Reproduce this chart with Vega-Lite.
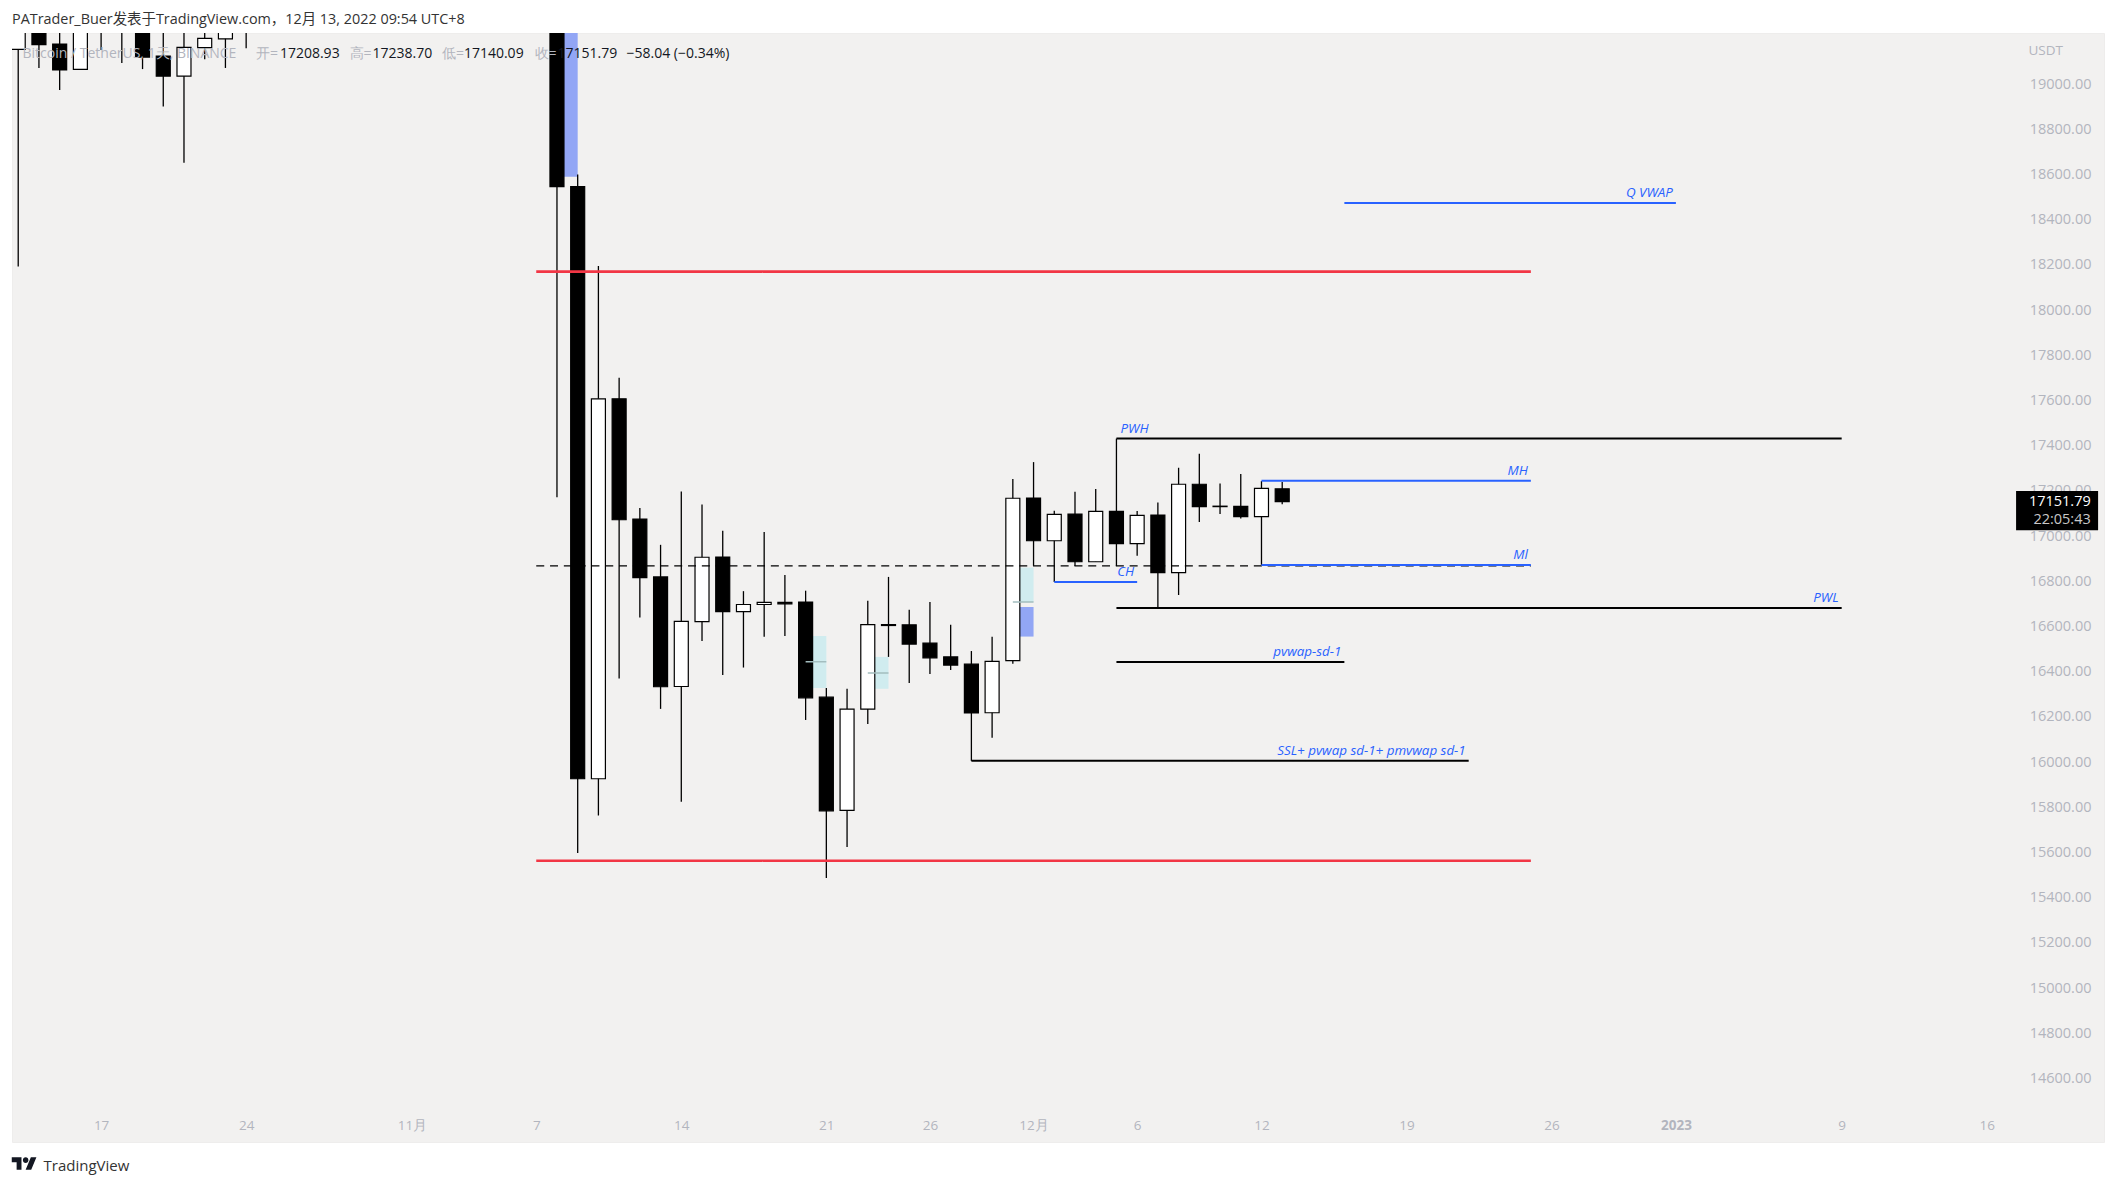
{
  "$schema": "https://vega.github.io/schema/vega-lite/v6.json",
  "autosize": "none",
  "width": 2092,
  "height": 1109,
  "padding": {"left": 12, "top": 33, "right": 12, "bottom": 44},
  "background": "#FFFFFF",
  "title": {
    "text": "PATrader_Buer发表于TradingView.com，12月 13, 2022 09:54 UTC+8",
    "anchor": "start",
    "frame": "group",
    "font": "Open Sans, Noto Sans CJK SC",
    "fontSize": 14.4,
    "fontWeight": "normal",
    "color": "#333333",
    "offset": 6
  },
  "config": {"font": "Open Sans", "view": {"fill": "#F2F1F0", "stroke": "#EEEDEC"}},
  "datasets": {
    "candles": [
      {"date": "2022-10-13", "open": 19153, "high": 19500, "low": 18192, "close": 19380},
      {"date": "2022-10-14", "open": 19381, "high": 19950, "low": 19071, "close": 19174},
      {"date": "2022-10-15", "open": 19177, "high": 19230, "low": 18973, "close": 19062},
      {"date": "2022-10-16", "open": 19065, "high": 19420, "low": 19063, "close": 19265},
      {"date": "2022-10-17", "open": 19265, "high": 19670, "low": 19150, "close": 19550},
      {"date": "2022-10-18", "open": 19550, "high": 19700, "low": 19093, "close": 19330},
      {"date": "2022-10-19", "open": 19330, "high": 19360, "low": 19066, "close": 19119},
      {"date": "2022-10-20", "open": 19124, "high": 19350, "low": 18900, "close": 19035},
      {"date": "2022-10-21", "open": 19035, "high": 19250, "low": 18652, "close": 19162},
      {"date": "2022-10-22", "open": 19161, "high": 19250, "low": 19110, "close": 19202},
      {"date": "2022-10-23", "open": 19200, "high": 19700, "low": 19071, "close": 19570},
      {"date": "2022-10-24", "open": 19570, "high": 19600, "low": 19158, "close": 19330},
      {"date": "2022-11-08", "open": 20590, "high": 20700, "low": 17172, "close": 18546},
      {"date": "2022-11-09", "open": 18546, "high": 18600, "low": 15597, "close": 15926},
      {"date": "2022-11-10", "open": 15926, "high": 18195, "low": 15763, "close": 17607},
      {"date": "2022-11-11", "open": 17607, "high": 17700, "low": 16369, "close": 17072},
      {"date": "2022-11-12", "open": 17075, "high": 17124, "low": 16639, "close": 16816},
      {"date": "2022-11-13", "open": 16819, "high": 16961, "low": 16235, "close": 16333},
      {"date": "2022-11-14", "open": 16334, "high": 17197, "low": 15824, "close": 16622},
      {"date": "2022-11-15", "open": 16621, "high": 17139, "low": 16535, "close": 16906},
      {"date": "2022-11-16", "open": 16907, "high": 17023, "low": 16385, "close": 16665},
      {"date": "2022-11-17", "open": 16665, "high": 16756, "low": 16418, "close": 16697},
      {"date": "2022-11-18", "open": 16697, "high": 17018, "low": 16554, "close": 16706},
      {"date": "2022-11-19", "open": 16706, "high": 16828, "low": 16558, "close": 16700},
      {"date": "2022-11-20", "open": 16708, "high": 16758, "low": 16186, "close": 16284},
      {"date": "2022-11-21", "open": 16287, "high": 16327, "low": 15487, "close": 15784},
      {"date": "2022-11-22", "open": 15786, "high": 16324, "low": 15624, "close": 16234},
      {"date": "2022-11-23", "open": 16234, "high": 16714, "low": 16168, "close": 16608},
      {"date": "2022-11-24", "open": 16608, "high": 16819, "low": 16465, "close": 16604},
      {"date": "2022-11-25", "open": 16607, "high": 16674, "low": 16350, "close": 16522},
      {"date": "2022-11-26", "open": 16526, "high": 16708, "low": 16389, "close": 16461},
      {"date": "2022-11-27", "open": 16465, "high": 16607, "low": 16407, "close": 16429},
      {"date": "2022-11-28", "open": 16433, "high": 16491, "low": 16005, "close": 16217},
      {"date": "2022-11-29", "open": 16218, "high": 16554, "low": 16107, "close": 16445},
      {"date": "2022-11-30", "open": 16449, "high": 17252, "low": 16435, "close": 17167},
      {"date": "2022-12-01", "open": 17168, "high": 17327, "low": 16868, "close": 16979},
      {"date": "2022-12-02", "open": 16979, "high": 17112, "low": 16796, "close": 17096},
      {"date": "2022-12-03", "open": 17097, "high": 17196, "low": 16867, "close": 16886},
      {"date": "2022-12-04", "open": 16886, "high": 17208, "low": 16886, "close": 17109},
      {"date": "2022-12-05", "open": 17109, "high": 17431, "low": 16867, "close": 16966},
      {"date": "2022-12-06", "open": 16966, "high": 17111, "low": 16913, "close": 17091},
      {"date": "2022-12-07", "open": 17093, "high": 17148, "low": 16681, "close": 16838},
      {"date": "2022-12-08", "open": 16838, "high": 17302, "low": 16739, "close": 17229},
      {"date": "2022-12-09", "open": 17229, "high": 17364, "low": 17062, "close": 17130},
      {"date": "2022-12-10", "open": 17132, "high": 17232, "low": 17097, "close": 17130},
      {"date": "2022-12-11", "open": 17131, "high": 17274, "low": 17077, "close": 17086},
      {"date": "2022-12-12", "open": 17086, "high": 17243, "low": 16872, "close": 17211},
      {"date": "2022-12-13", "open": 17208.93, "high": 17238.7, "low": 17140.09, "close": 17151.79}
    ],
    "zones": [
      {"date": "2022-11-08", "date2": "2022-11-09", "price": 18590, "price2": 19300, "kind": "blue"},
      {"date": "2022-11-20", "date2": "2022-11-21", "price": 16328, "price2": 16558, "kind": "teal"},
      {"date": "2022-11-23", "date2": "2022-11-24", "price": 16324, "price2": 16465, "kind": "teal"},
      {"date": "2022-11-30", "date2": "2022-12-01", "price": 16708, "price2": 16860, "kind": "teal"},
      {"date": "2022-11-30", "date2": "2022-12-01", "price": 16555, "price2": 16686, "kind": "blue"}
    ],
    "levels": [
      {"date": "2022-11-20", "date2": "2022-11-21", "price": 16444, "kind": "mid"},
      {"date": "2022-11-23", "date2": "2022-11-24", "price": 16394, "kind": "mid"},
      {"date": "2022-11-30", "date2": "2022-12-01", "price": 16708, "kind": "mid"},
      {"date": "2022-11-07", "date2": "2022-12-25", "price": 18170, "kind": "range"},
      {"date": "2022-11-07", "date2": "2022-12-25", "price": 15563, "kind": "range"},
      {"date": "2022-11-07", "date2": "2022-12-25", "price": 16868, "kind": "dashed"},
      {"date": "2022-12-16", "date2": "2023-01-01", "price": 18473, "kind": "blue"},
      {"date": "2022-12-05", "date2": "2023-01-09", "price": 17431, "kind": "black"},
      {"date": "2022-12-12", "date2": "2022-12-25", "price": 17245, "kind": "blue"},
      {"date": "2022-12-12", "date2": "2022-12-25", "price": 16872, "kind": "blue"},
      {"date": "2022-12-02", "date2": "2022-12-06", "price": 16796, "kind": "blue"},
      {"date": "2022-12-05", "date2": "2023-01-09", "price": 16681, "kind": "black"},
      {"date": "2022-12-05", "date2": "2022-12-16", "price": 16442, "kind": "black"},
      {"date": "2022-11-28", "date2": "2022-12-22", "price": 16006, "kind": "black"}
    ],
    "labels": [
      {"text": "Q VWAP", "date": "2023-01-01", "price": 18473},
      {"text": "MH", "date": "2022-12-25", "price": 17245},
      {"text": "Ml", "date": "2022-12-25", "price": 16872},
      {"text": "CH", "date": "2022-12-06", "price": 16796},
      {"text": "PWL", "date": "2023-01-09", "price": 16681},
      {"text": "pvwap-sd-1", "date": "2022-12-16", "price": 16442},
      {"text": "SSL+ pvwap sd-1+ pmvwap sd-1", "date": "2022-12-22", "price": 16006}
    ],
    "readout": [
      {"text": "Bitcoin / TetherUS, 1天, BINANCE", "date": "2022-10-13T05:00:00Z", "price": 19133, "kind": "muted"},
      {"text": "开=", "date": "2022-10-24T11:17:00Z", "price": 19133, "kind": "muted"},
      {"text": "17208.93", "date": "2022-10-25T15:07:00Z", "price": 19133, "kind": "value"},
      {"text": "高=", "date": "2022-10-28T23:45:00Z", "price": 19133, "kind": "muted"},
      {"text": "17238.70", "date": "2022-10-30T02:24:00Z", "price": 19133, "kind": "value"},
      {"text": "低=", "date": "2022-11-02T10:48:00Z", "price": 19133, "kind": "muted"},
      {"text": "17140.09", "date": "2022-11-03T12:14:00Z", "price": 19133, "kind": "value"},
      {"text": "收=", "date": "2022-11-06T22:05:00Z", "price": 19133, "kind": "muted"},
      {"text": "17151.79", "date": "2022-11-08T00:43:00Z", "price": 19133, "kind": "value"},
      {"text": "−58.04 (−0.34%)", "date": "2022-11-11T08:31:00Z", "price": 19133, "kind": "value"}
    ],
    "tag": [
      {"date": "2023-01-17T10:00:00Z", "date2": "2023-01-21T09:00:00Z", "price": 17026, "price2": 17199}
    ],
    "tagText": [
      {"text": "17151.79", "date": "2023-01-21T00:30:00Z", "price": 17151.79, "kind": "last"},
      {"text": "22:05:43", "date": "2023-01-21T00:30:00Z", "price": 17071, "kind": "timer"}
    ],
    "logo": [
      {"date": "2022-10-13T07:00:00Z", "price": 14223}
    ]
  },
  "encoding": {
    "x": {
      "field": "date",
      "type": "temporal",
      "scale": {"type": "utc", "padding": 0, "domain": ["2022-10-12T16:48:00Z", "2023-01-21T15:50:00Z"]},
      "axis": {
        "title": "TradingView",
        "titleFont": "Open Sans",
        "titleFontSize": 15,
        "titleFontWeight": "normal",
        "titleColor": "#333333",
        "titleAnchor": "start",
        "titleAlign": "left",
        "titleBaseline": "middle",
        "titleX": 31,
        "titleY": 23,
        "grid": false,
        "domain": false,
        "ticks": false,
        "labelPadding": -17,
        "labelBaseline": "middle",
        "labelFontSize": 13.5,
        "labelColor": "#B2B5BE",
        "labelFontWeight": {"condition": {"test": "utcyear(datum.value) == 2023 && utcdate(datum.value) == 1", "value": "bold"}, "value": "normal"},
        "labelFlush": false,
        "labelOverlap": false,
        "values": ["2022-10-17", "2022-10-24", "2022-11-01", "2022-11-07", "2022-11-14", "2022-11-21", "2022-11-26", "2022-12-01", "2022-12-06", "2022-12-12", "2022-12-19", "2022-12-26", "2023-01-01", "2023-01-09", "2023-01-16"],
        "labelExpr": "utcdate(datum.value) == 1 ? (utcmonth(datum.value) == 0 ? '2023' : (utcmonth(datum.value) + 1) + '月') : '' + utcdate(datum.value)"
      }
    },
    "y": {
      "field": "price",
      "type": "quantitative",
      "scale": {"domain": [14318.6, 19225.7], "nice": false, "zero": false},
      "axis": {
        "orient": "right",
        "title": "USDT",
        "titleFont": "Open Sans",
        "titleFontSize": 13.5,
        "titleFontWeight": "normal",
        "titleColor": "#B2B5BE",
        "titleAngle": 0,
        "titleAlign": "left",
        "titleBaseline": "middle",
        "titleX": -76,
        "titleY": 17,
        "grid": false,
        "domain": false,
        "ticks": false,
        "labelAlign": "right",
        "labelBaseline": "middle",
        "labelPadding": -13,
        "labelFontSize": 14.5,
        "labelColor": "#B2B5BE",
        "labelFlush": false,
        "labelOverlap": false,
        "format": ".2f",
        "values": [14600, 14800, 15000, 15200, 15400, 15600, 15800, 16000, 16200, 16400, 16600, 16800, 17000, 17200, 17400, 17600, 17800, 18000, 18200, 18400, 18600, 18800, 19000]
      }
    }
  },
  "layer": [
    {
      "data": {"name": "zones"},
      "mark": {"type": "rect", "clip": true},
      "encoding": {
        "x2": {"field": "date2"},
        "y2": {"field": "price2"},
        "color": {"condition": {"test": "datum.kind == 'blue'", "value": "#92A6F5"}, "value": "#D0ECEF"}
      }
    },
    {
      "data": {"name": "candles"},
      "mark": {"type": "rule", "color": "#000000", "strokeWidth": 1.3, "clip": true},
      "encoding": {
        "y": {"field": "low", "type": "quantitative"},
        "y2": {"field": "high"}
      }
    },
    {
      "data": {"name": "candles"},
      "mark": {"type": "bar", "size": 14, "stroke": "#000000", "strokeWidth": 1.2, "clip": true},
      "encoding": {
        "y": {"field": "open", "type": "quantitative"},
        "y2": {"field": "close"},
        "color": {"condition": {"test": "datum.close < datum.open", "value": "#000000"}, "value": "#FFFFFF"}
      }
    },
    {
      "data": {"name": "readout"},
      "mark": {"type": "text", "align": "left", "baseline": "middle", "fontSize": 14},
      "encoding": {
        "text": {"field": "text"},
        "color": {"condition": {"test": "datum.kind == 'muted'", "value": "#B2B5BE"}, "value": "#131722"}
      }
    },
    {
      "data": {"name": "levels"},
      "mark": {"type": "rule"},
      "encoding": {
        "x2": {"field": "date2"},
        "color": {
          "field": "kind",
          "type": "nominal",
          "legend": null,
          "scale": {"domain": ["mid", "range", "dashed", "blue", "black"], "range": ["#A3BDBF", "#F23645", "#000000", "#2962FF", "#000000"]}
        },
        "strokeWidth": {
          "field": "kind",
          "type": "nominal",
          "legend": null,
          "scale": {"type": "ordinal", "domain": ["mid", "range", "dashed", "blue", "black"], "range": [1.5, 2.7, 1.4, 2, 2]}
        },
        "strokeDash": {
          "field": "kind",
          "type": "nominal",
          "legend": null,
          "scale": {"domain": ["mid", "range", "dashed", "blue", "black"], "range": [[1, 0], [1, 0], [8, 5.8], [1, 0], [1, 0]]}
        }
      }
    },
    {
      "data": {"name": "labels"},
      "mark": {"type": "text", "align": "right", "baseline": "bottom", "dx": -3, "dy": -3, "fontSize": 13.4, "fontStyle": "italic", "color": "#2962FF"},
      "encoding": {"text": {"field": "text"}}
    },
    {
      "data": {"values": [{"text": "PWH", "date": "2022-12-05", "price": 17431}]},
      "mark": {"type": "text", "align": "left", "baseline": "bottom", "dx": 4, "dy": -3, "fontSize": 13.4, "fontStyle": "italic", "color": "#2962FF"},
      "encoding": {"text": {"field": "text"}}
    },
    {
      "data": {"name": "tag"},
      "mark": {"type": "rect", "color": "#000000"},
      "encoding": {
        "x2": {"field": "date2"},
        "y2": {"field": "price2"}
      }
    },
    {
      "data": {"name": "tagText"},
      "mark": {"type": "text", "align": "right", "baseline": "middle", "fontSize": 14.5},
      "encoding": {
        "text": {"field": "text"},
        "color": {"condition": {"test": "datum.kind == 'last'", "value": "#FFFFFF"}, "value": "#C8C8C8"}
      }
    },
    {
      "data": {"name": "logo"},
      "mark": {
        "type": "point",
        "filled": true,
        "opacity": 1,
        "color": "#131722",
        "size": 625,
        "shape": "M -0.222 0.5 H -0.611 V -0.111 H -1 V -0.5 H -0.222 Z M 0.556 0.5 H 0.111 L 0.528 -0.5 H 0.972 Z M -0.111 -0.278 A 0.222 0.222 0 1 0 0.333 -0.278 A 0.222 0.222 0 1 0 -0.111 -0.278 Z"
      }
    }
  ]
}
